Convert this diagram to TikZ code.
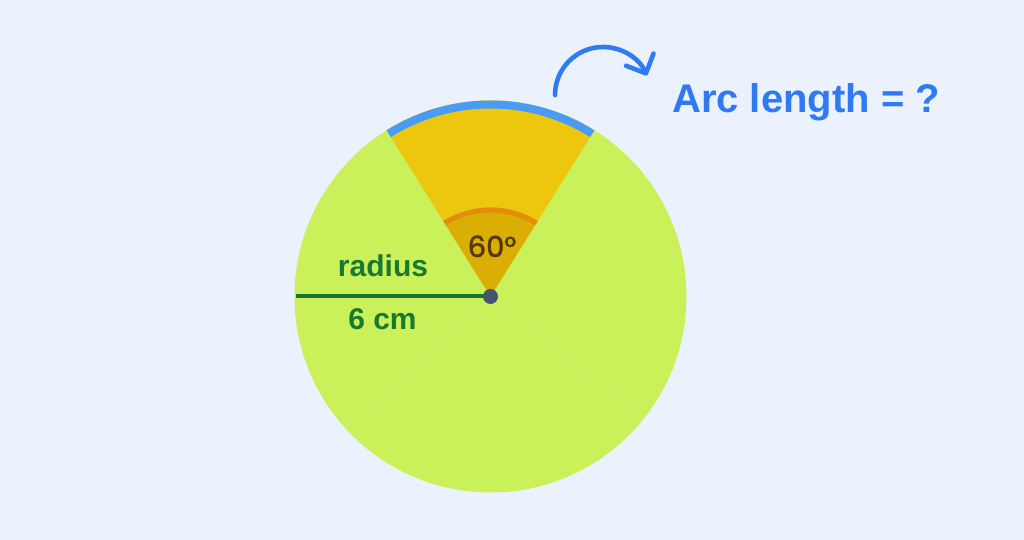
\documentclass[tikz,border=0pt]{standalone}
\usepackage{fontspec}
\setmainfont{Liberation Sans}
\newfontfamily\popfont{Poppins}[FakeBold=1.6]
\usetikzlibrary{arrows.meta,calc}
\definecolor{bgc}{HTML}{EBF2FD}
\definecolor{limec}{HTML}{CAF05A}
\definecolor{seamc}{HTML}{D1F36A}
\definecolor{sectc}{HTML}{EDC70D}
\definecolor{wedgec}{HTML}{DAAE02}
\definecolor{orangec}{HTML}{E38D0B}
\definecolor{arcblue}{HTML}{4A9BF6}
\definecolor{arrowblue}{HTML}{2F7BF5}
\definecolor{textblue}{HTML}{2F79F2}
\definecolor{greenc}{HTML}{177A2E}
\definecolor{dotc}{HTML}{46546E}
\definecolor{brownc}{HTML}{553800}
\tikzset{
  lbl/.style={inner sep=0pt, anchor=base, font=\fontsize{30}{32}\selectfont\bfseries, text=greenc},
}
\begin{document}
\begin{tikzpicture}[x=1pt,y=1pt]
\fill[bgc] (0,0) rectangle (1024,540);
\useasboundingbox (0,0) rectangle (1024,540);
\coordinate (C) at (490.5,243.5);
% full circle
\fill[limec] (C) circle[radius=196];
% faint seams
\draw[seamc, line width=0.7pt] (C) -- ++(222:196);
\draw[seamc, line width=0.7pt] (C) -- ++(322:196);
% yellow sector
\fill[sectc] (C) -- ++(58:196) arc[start angle=58, end angle=122, radius=196] -- cycle;
% inner wedge
\fill[wedgec] (C) -- ++(58:89) arc[start angle=58, end angle=122, radius=89] -- cycle;
\draw[orangec, line width=5pt] ($(C)+(58:86.5)$) arc[start angle=58, end angle=122, radius=86.5];
% blue arc
\draw[arcblue, line width=8pt] ($(C)+(58:192)$) arc[start angle=58, end angle=122, radius=192];
% radius line
\coordinate (L) at (296,243.5);
\draw[greenc, line width=4pt] (L) -- (C);
\fill[dotc] (C) circle[radius=7.5];
% labels
\node[lbl] (rad) at (383,263) {radius};
\node[lbl] (cm) at (382.5,210) {6 cm};
\node[inner sep=0pt, anchor=base, font=\popfont\fontsize{29}{30}\selectfont, text=brownc] (ang) at (492,283) {60°};
\node[inner sep=0pt, anchor=base west, font=\fontsize{40}{42}\selectfont\bfseries, text=textblue] (q) at (672,427) {Arc length = ?};
% curved arrow
\coordinate (A0) at (555,445);
\draw[arrowblue, line width=4.6pt, line cap=round, -{Straight Barb[length=15pt,width=30pt,line cap=round,line join=round]}]
  (A0) arc[start angle=180, end angle=24, radius=48];
\end{tikzpicture}
\end{document}
